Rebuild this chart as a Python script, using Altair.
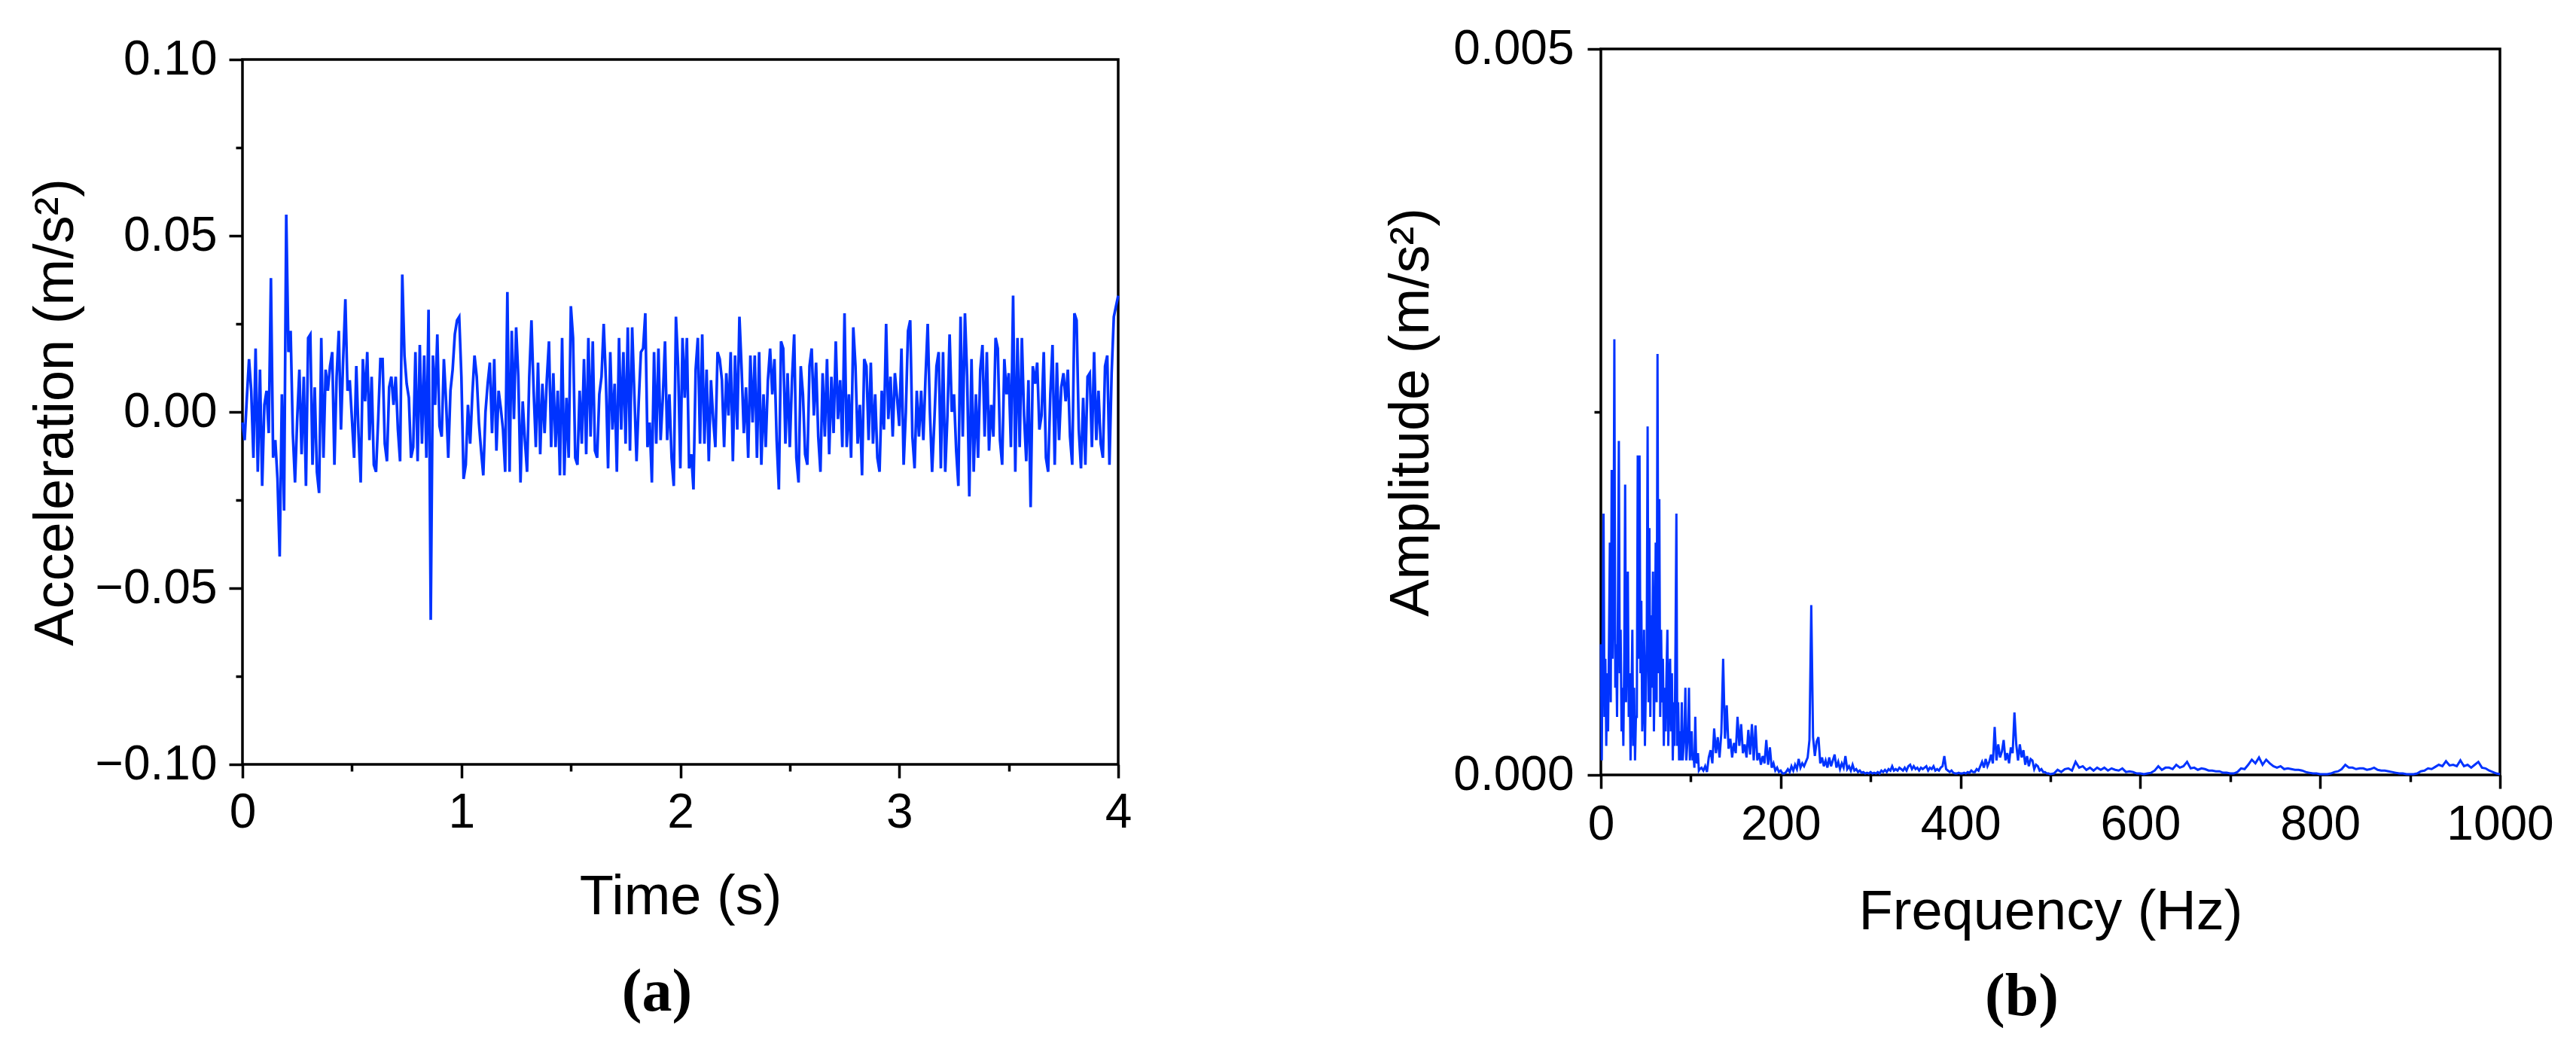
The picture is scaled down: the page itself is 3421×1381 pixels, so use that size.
import altair as alt
import pandas as pd

# ---------------- data ----------------
# (a) acceleration, sampled every 0.01 s, values in 1e-3 m/s^2
DT = 0.01
accel_milli = [
    -3, -8, 4, 15, 6, -13, 18, -17, 12, -21,
    2, 6, -6, 38, -13, -8, -19, -41, 5, -28,
    56, 17, 23, -6, -20, -2, 12, -12, 10, -21,
    21, 22, -15, 7, -17, -23, 21, -13, 12, 6,
    13, 17, -15, 10, 23, -5, 15, 32, 6, 9,
    -2, -13, 13, -6, -20, 15, 3, 17, -8, 10,
    -15, -17, -2, 15, 15, -9, -14, 7, 10, 2,
    10, -5, -14, 39, 16, 8, 4, -13, -10, 17,
    -14, 19, -9, 16, -13, 29, -59, 16, 2, 22,
    -4, -7, 15, 3, -13, 6, 12, 22, 26, 27,
    10, -19, -15, 2, -9, 5, 16, 10, -3, -11,
    -18, 0, 8, 14, -6, 15, -11, 6, 1, -5,
    -17, 34, -17, 23, -2, 24, 10, -20, 3, -8,
    -17, 10, 26, 6, -10, 14, -12, 8, -6, 9,
    20, -10, 11, -10, 6, -18, 21, -18, 4, -13,
    30, 21, -13, -15, 6, -9, 15, -12, 21, -7,
    20, -11, -13, 5, 10, 25, 9, -16, 17, -5,
    8, -17, 21, -5, 17, -9, 24, -11, 24, 5,
    -14, 3, 17, 18, 28, -10, -3, -20, 17, -9,
    18, -8, 4, 20, -8, 5, -13, -21, 27, 13,
    -16, 21, 4, 21, -16, -12, -22, 12, 21, -9,
    22, -9, 12, -14, 9, -2, -10, 17, 15, 9,
    -10, 11, -1, 17, -14, 16, -5, 27, 12, -6,
    7, -13, 16, -3, 16, -13, 17, -15, 5, -10,
    9, 18, 5, 15, -8, -22, 20, 18, -9, 11,
    -10, 9, 22, -13, -20, 13, 5, -12, -15, 13,
    18, -1, 14, -7, -17, 11, -7, 15, -12, 10,
    -6, 20, -2, 9, -10, 28, -10, 5, -13, 24,
    13, -9, 2, -18, 15, 13, -8, 14, -9, 5,
    -13, -17, 6, -5, 25, -2, 10, -7, 11, 4,
    -4, 18, -15, 0, 23, 26, -7, -16, 6, -7,
    6, -8, 10, 25, 0, -17, -3, 13, 17, -16,
    17, -17, -1, 22, 0, 5, -11, -21, 27, -7,
    28, 10, -24, 15, -17, 5, -13, 12, 19, -7,
    17, -11, 2, -7, 21, 18, -8, -15, 15, 5,
    11, -10, 33, -17, 21, -10, 21, -1, -14, 9,
    -27, 13, 8, 14, -5, -1, 17, -13, -17, 5,
    19, -15, 14, -8, 7, 11, 3, 12, -7, -15,
    28, 26, -5, -16, 4, -15, 10, 11, -10, 17,
    -8, 6, -9, -13, 13, 16, -15, 11, 27, 30,
    33,
]

# (b) amplitude spectrum, values in 1e-4 m/s^2
LOW_START, LOW_STEP = 0, 1      # 0 .. 110 Hz
spec_low = [
    9, 1, 10, 18, 4, 8, 2, 7, 3, 9,
    16, 5, 21, 8, 12, 30, 6, 9, 4, 12,
    23, 7, 10, 3, 6, 2, 8, 20, 5, 9,
    14, 4, 7, 1, 5, 10, 2, 6, 1, 4,
    4, 22, 8, 22, 7, 12, 3, 5, 10, 2,
    6, 9, 24, 5, 17, 4, 11, 6, 14, 3,
    8, 16, 5, 29, 7, 19, 4, 10, 5, 8,
    2, 6, 3, 7, 10, 2, 6, 8, 3, 7,
    1, 5, 2, 9, 18, 2, 5, 1, 3, 1,
    5, 1, 2, 3, 6, 1, 2, 3, 6, 1,
    2, 3, 1, 1.5, 0.5, 4, 1, 0.8, 1.5, 0.3, 0.4,
]
MID_START, MID_STEP = 112, 2    # 112 .. 500 Hz
spec_mid = [
    0.5, 0.3, 0.6, 0.2, 1.2, 1.7, 0.8, 3.2, 1.5, 2.6,
    1.2, 2.9, 8.0, 2.5, 4.8, 1.8, 2.5, 1.2, 2.2, 1.5,
    4.0, 2.0, 3.5, 1.5, 2.1, 1.2, 3.1, 1.4, 3.5, 1.0,
    3.4, 1.0, 1.5, 0.7, 1.3, 0.8, 2.4, 0.7, 1.9, 0.5,
    0.8, 0.3, 0.5, 0.2, 0.3, 0.1, 0.1, 0.2, 0.4, 0.2,
    0.6, 0.3, 0.7, 0.4, 1.1, 0.5, 0.8, 0.6, 0.9, 1.2,
    2.4, 11.7, 2.6, 1.3, 2.3, 2.6, 0.8, 1.2, 0.6, 1.0,
    0.5, 1.2, 0.6, 1.0, 1.4, 0.5, 0.9, 0.4, 0.8, 0.5,
    1.3, 0.4, 0.6, 0.3, 0.7, 0.3, 0.4, 0.2, 0.3, 0.15,
    0.2, 0.1, 0.15, 0.1, 0.2, 0.1, 0.15, 0.1, 0.2, 0.1,
    0.3, 0.2, 0.35, 0.2, 0.4, 0.3, 0.6, 0.3, 0.4, 0.3,
    0.5, 0.4, 0.3, 0.5, 0.3, 0.6, 0.7, 0.4, 0.6, 0.4,
    0.5, 0.3, 0.5, 0.4, 0.5, 0.6, 0.3, 0.5, 0.4, 0.6,
    0.3, 0.4, 0.3, 0.5, 0.6, 1.3, 0.4, 0.3, 0.2, 0.3,
    0.15, 0.1, 0.1, 0.15, 0.1, 0.1, 0.15, 0.1, 0.2, 0.15,
    0.3, 0.2, 0.2, 0.4, 0.3, 0.6, 0.9, 0.5, 1.1, 0.6,
    0.9, 1.4, 0.8, 3.3, 1.0, 2.1, 1.2, 1.6, 2.4, 1.0,
    1.5, 0.8, 1.9, 1.5, 4.3, 2.1, 1.0, 2.1, 1.2, 1.7,
    0.7, 1.3, 0.6, 1.1, 1.0, 0.4, 0.7, 0.6, 0.3, 0.4,
    0.2, 0.2, 0.1, 0.1, 0.05,
]
HIGH_START, HIGH_STEP = 504, 4  # 504 .. 1000 Hz
spec_high = [
    0.1, 0.35, 0.2, 0.4, 0.45, 0.3, 0.9, 0.5, 0.6, 0.35,
    0.5, 0.3, 0.5, 0.35, 0.5, 0.3, 0.45, 0.35, 0.3, 0.45,
    0.2, 0.25, 0.2, 0.1, 0.1, 0.05, 0.1, 0.15, 0.3, 0.6,
    0.35, 0.5, 0.5, 0.4, 0.7, 0.5, 0.6, 0.9, 0.45, 0.5,
    0.35, 0.45, 0.4, 0.3, 0.3, 0.25, 0.25, 0.15, 0.15, 0.1,
    0.1, 0.2, 0.45, 0.4, 0.7, 1.05, 0.8, 1.2, 0.7, 1.05,
    0.8, 0.6, 0.5, 0.6, 0.4, 0.45, 0.4, 0.35, 0.35, 0.3,
    0.2, 0.15, 0.1, 0.1, 0.05, 0.05, 0.05, 0.1, 0.2, 0.25,
    0.4, 0.7, 0.5, 0.5, 0.4, 0.45, 0.45, 0.35, 0.4, 0.5,
    0.35, 0.3, 0.3, 0.25, 0.2, 0.15, 0.1, 0.1, 0.05, 0.05,
    0.05, 0.1, 0.25, 0.3, 0.45, 0.4, 0.55, 0.7, 0.6, 0.95,
    0.65, 0.7, 0.6, 1.0, 0.6, 0.7, 0.5, 0.7, 0.9, 0.5,
    0.45, 0.3, 0.2, 0.1, 0.05,
]

# axis tick values
time_major = [0, 1, 2, 3, 4]
time_minor = [0.5, 1.5, 2.5, 3.5]
acc_major = [-0.10, -0.05, 0.0, 0.05, 0.10]
acc_minor = [-0.075, -0.025, 0.025, 0.075]
freq_major = [0, 200, 400, 600, 800, 1000]
freq_minor = [100, 300, 500, 700, 900]
amp_major = [0.0, 0.005]
amp_minor = [0.0025]

# ---------------- tables ----------------
df_a = pd.DataFrame({
    "t": [round(i * DT, 4) for i in range(len(accel_milli))],
    "a": [v / 1000.0 for v in accel_milli],
})
freqs = ([LOW_START + LOW_STEP * i for i in range(len(spec_low))]
         + [MID_START + MID_STEP * i for i in range(len(spec_mid))]
         + [HIGH_START + HIGH_STEP * i for i in range(len(spec_high))])
amps = [v * 1e-4 for v in spec_low + spec_mid + spec_high]
df_b = pd.DataFrame({"f": freqs, "amp": amps})

# ---------------- style ----------------
BLUE = "#0033FF"
SANS = "Liberation Sans"
SERIF = "Liberation Serif"
TICK_FS = 64
TITLE_FS = 74
LW = 3.5


def major_axis(values, fmt, title, orient, label_pad, title_x, title_y, **kw):
    return alt.Axis(
        values=values, format=fmt, title=title, orient=orient,
        grid=False, domain=False, ticks=True, tickSize=18, tickWidth=LW,
        tickColor="black", labels=True, labelFont=SANS, labelFontSize=TICK_FS,
        labelColor="black", labelPadding=label_pad, labelFlush=False,
        labelOverlap=False, titleFont=SANS, titleFontSize=TITLE_FS,
        titleFontWeight="normal", titleColor="black", titleX=title_x,
        titleY=title_y, **kw)


def minor_axis(values, orient):
    return alt.Axis(
        values=values, orient=orient, title=None, grid=False, domain=False,
        labels=False, ticks=True, tickSize=9, tickWidth=LW, tickColor="black")


# ---------------- panel (a) ----------------
WA, HA = 1163, 936
xs_a = alt.Scale(domain=[0, 4], nice=False, zero=False)
ys_a = alt.Scale(domain=[-0.1, 0.1], nice=False, zero=False)
base_a = alt.Chart(df_a)
line_a = base_a.mark_line(color=BLUE, strokeWidth=3.6).encode(
    x=alt.X("t:Q", scale=xs_a,
            axis=major_axis(time_major, "d", "Time (s)", "bottom", 14,
                            WA / 2, 198, titleBaseline="alphabetic")),
    y=alt.Y("a:Q", scale=ys_a,
            axis=major_axis(acc_major, ".2f", "Acceleration (m/s²)", "left", 16,
                            -210, HA / 2, titleAngle=270,
                            titleBaseline="bottom", titleAlign="center")),
)
minor_a = base_a.mark_line(opacity=0).encode(
    x=alt.X("t:Q", scale=xs_a, axis=minor_axis(time_minor, "bottom")),
    y=alt.Y("a:Q", scale=ys_a, axis=minor_axis(acc_minor, "left")),
)
panel_a = alt.layer(line_a, minor_a).resolve_axis(
    x="independent", y="independent"
).properties(
    width=WA, height=HA,
    title=alt.TitleParams("(a)", orient="bottom", anchor="middle", frame="group",
                          font=SERIF, fontWeight="bold", fontSize=80,
                          color="black", baseline="alphabetic", offset=114, dx=-31),
)

# ---------------- panel (b) ----------------
WB, HB = 1194, 964
xs_b = alt.Scale(domain=[0, 1000], nice=False, zero=False)
ys_b = alt.Scale(domain=[0, 0.005], nice=False, zero=False)
base_b = alt.Chart(df_b)
line_b = base_b.mark_line(color=BLUE, strokeWidth=3).encode(
    x=alt.X("f:Q", scale=xs_b,
            axis=major_axis(freq_major, "d", "Frequency (Hz)", "bottom", 16,
                            WB / 2, 204, titleBaseline="alphabetic")),
    y=alt.Y("amp:Q", scale=ys_b,
            axis=major_axis(amp_major, ".3f", "Amplitude (m/s²)", "left", 18,
                            -214, HB / 2, titleAngle=270,
                            titleBaseline="bottom", titleAlign="center")),
)
minor_b = base_b.mark_line(opacity=0).encode(
    x=alt.X("f:Q", scale=xs_b, axis=minor_axis(freq_minor, "bottom")),
    y=alt.Y("amp:Q", scale=ys_b, axis=minor_axis(amp_minor, "left")),
)
panel_b = alt.layer(line_b, minor_b).resolve_axis(
    x="independent", y="independent"
).properties(
    width=WB, height=HB,
    title=alt.TitleParams("(b)", orient="bottom", anchor="middle", frame="group",
                          font=SERIF, fontWeight="bold", fontSize=80,
                          color="black", baseline="alphabetic", offset=100, dx=-38),
)

chart = alt.hconcat(
    panel_a, panel_b, spacing=641, bounds="flush", center=True
).properties(
    padding={"left": 27, "top": 23, "right": 10, "bottom": 5},
    background="white",
).configure_view(
    stroke="black", strokeWidth=LW, fill="white"
)

chart.save("out.html", embed_options={"renderer": "svg", "actions": False})
